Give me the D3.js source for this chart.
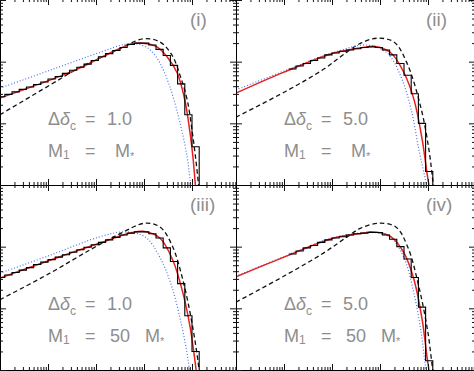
<!DOCTYPE html>
<html>
<head>
<meta charset="utf-8">
<script src="https://cdn.jsdelivr.net/npm/d3@7"></script>
<style>
  body { margin: 0; background: #fff; }
  svg { display: block; }
</style>
</head>
<body>
<svg id="chart" width="474" height="371"></svg>
<script>
// log10 M on x, log10 f on y
const panelLabels = ['(i)', '(ii)', '(iii)', '(iv)']
const deltaValues = ['1.0', '5.0', '1.0', '5.0']
const m1Prefix = ['', '', '50', '50']

const binWidth = 0.15
const histStart = [8.95, 10.10, 8.95, 10.10]

const histI = [-1.57, -1.53, -1.49, -1.45, -1.41, -1.37, -1.33, -1.28, -1.24, -1.19, -1.14, -1.09, -1.04, -0.98,
  -0.92, -0.87, -0.82, -0.77, -0.72, -0.70, -0.70, -0.73, -0.80, -0.90, -1.06, -1.36, -1.86, -2.38]
const histII = [-1.12, -1.07, -1.03, -0.98, -0.94, -0.89, -0.86, -0.83, -0.81, -0.79, -0.77, -0.76, -0.77, -0.81,
  -0.89, -1.03, -1.22, -1.52, -2.00, -2.78]
const histIII = [-1.50, -1.46, -1.42, -1.38, -1.34, -1.29, -1.25, -1.21, -1.17, -1.13, -1.09, -1.05, -1.01, -0.97,
  -0.93, -0.89, -0.85, -0.81, -0.78, -0.76, -0.76, -0.79, -0.86, -1.02, -1.24, -1.60, -2.12, -2.70]
const histIV = [-1.12, -1.07, -1.02, -0.98, -0.93, -0.89, -0.86, -0.84, -0.81, -0.79, -0.78, -0.77, -0.77, -0.81,
  -0.88, -1.00, -1.20, -1.50, -1.98, -2.85]

const redI = [[9.00, -1.59], [10.04, -1.30], [10.67, -1.10], [11.29, -0.86], [11.71, -0.72], [11.98, -0.70],
  [12.27, -0.76], [12.48, -0.92], [12.69, -1.18], [12.85, -1.62], [12.96, -2.16], [13.02, -2.55], [13.08, -3.1]]
const blueI = [[9.00, -1.43], [10.04, -1.14], [11.08, -0.85], [11.60, -0.72], [11.90, -0.72], [12.13, -0.81],
  [12.33, -1.02], [12.54, -1.41], [12.75, -1.99], [12.90, -2.55], [12.96, -2.92], [13.00, -3.2]]
const dashI = [[9.00, -1.86], [10.04, -1.38], [10.67, -1.09], [11.08, -0.94], [11.50, -0.79], [11.98, -0.63],
  [12.33, -0.68], [12.58, -0.89], [12.75, -1.22], [12.90, -1.62], [13.00, -2.11], [13.08, -2.59], [13.15, -3.1]]

const redII = [[9.00, -1.51], [10.00, -1.17], [11.04, -0.86], [11.73, -0.76], [11.88, -0.75], [12.23, -0.86],
  [12.50, -1.18], [12.71, -1.62], [12.88, -2.27], [12.98, -2.81], [13.04, -3.1]]
const blueII = [[9.00, -1.46], [10.04, -1.14], [11.08, -0.84], [11.71, -0.73], [12.15, -0.86], [12.44, -1.25],
  [12.65, -1.78], [12.81, -2.43], [12.96, -2.97], [13.00, -3.2]]
const dashII = [[9.00, -1.90], [10.04, -1.48], [10.83, -1.12], [11.30, -0.85], [11.60, -0.70], [11.94, -0.62],
  [12.29, -0.68], [12.56, -1.02], [12.85, -1.74], [13.02, -2.43], [13.10, -2.92], [13.15, -3.2]]

const redIII = [[9.00, -1.51], [10.04, -1.22], [11.08, -0.94], [11.71, -0.78], [11.98, -0.75], [12.33, -0.86],
  [12.60, -1.22], [12.81, -1.75], [12.96, -2.30], [13.06, -2.84], [13.10, -3.1]]
const blueIII = [[9.00, -1.43], [10.04, -1.14], [11.08, -0.84], [11.60, -0.76], [12.02, -0.84], [12.33, -1.17],
  [12.58, -1.65], [12.79, -2.30], [12.92, -2.84], [12.96, -3.1]]
const dashIII = [[9.00, -1.86], [10.04, -1.43], [10.88, -1.05], [11.50, -0.79], [12.02, -0.62], [12.33, -0.68],
  [12.58, -0.97], [12.81, -1.54], [13.00, -2.24], [13.13, -2.89], [13.17, -3.2]]

const redIV = [[9.00, -1.49], [10.00, -1.17], [11.04, -0.86], [11.67, -0.78], [11.81, -0.76], [12.23, -0.84],
  [12.50, -1.10], [12.71, -1.54], [12.88, -2.19], [12.98, -2.79], [13.04, -3.1]]
const blueIV = [[9.00, -1.48], [10.00, -1.16], [11.04, -0.85], [11.67, -0.77], [11.81, -0.76], [12.23, -0.86],
  [12.50, -1.18], [12.69, -1.70], [12.85, -2.35], [12.94, -2.90], [12.98, -3.1]]
const dashIV = [[9.00, -1.90], [10.04, -1.46], [10.83, -1.10], [11.30, -0.85], [11.60, -0.70], [11.98, -0.62],
  [12.33, -0.68], [12.58, -1.01], [12.81, -1.65], [13.00, -2.40], [13.10, -3.0], [13.15, -3.2]]

const hists = [histI, histII, histIII, histIV]
const reds = [redI, redII, redIII, redIV]
const blues = [blueI, blueII, blueIII, blueIV]
const dashes = [dashI, dashII, dashIII, dashIV]

const pxPerDecadeX = 48
const pxPerDecadeY = 61.67
const textGray = '#8e8e8e'

const panels = [
  { x: 0, y: -1, w: 236, h: 186, top: 0 },
  { x: 236, y: -1, w: 239, h: 186, top: 0 },
  { x: 0, y: 185, w: 236, h: 185, top: 185 },
  { x: 236, y: 185, w: 239, h: 185, top: 185 }
]

const svg = d3.select('#chart')
const defs = svg.append('defs')

const isMajor = d => Math.abs(Math.log10(d) - Math.round(Math.log10(d))) < 1e-6

panels.forEach((p, i) => {
  const x = d3.scaleLog().domain([1e9, Math.pow(10, 9 + p.w / pxPerDecadeX)]).range([0, p.w])
  const y = d3.scaleLog().domain([1e-3, Math.pow(10, p.h / pxPerDecadeY - 3)]).range([p.h, 0])

  const g = svg.append('g').attr('transform', `translate(${p.x},${p.y})`)

  defs.append('clipPath').attr('id', `clip${i}`)
    .append('rect').attr('width', p.w).attr('height', p.h)

  const plot = g.append('g').attr('clip-path', `url(#clip${i})`)

  const line = d3.line()
    .x(d => x(Math.pow(10, d[0])))
    .y(d => y(Math.pow(10, d[1])))
    .curve(d3.curveCatmullRom.alpha(0.5))

  plot.append('path').datum(dashes[i])
    .attr('fill', 'none').attr('stroke', '#111').attr('stroke-width', 1.3)
    .attr('stroke-dasharray', '4.5,3').attr('d', line)

  plot.append('path').datum(blues[i])
    .attr('fill', 'none').attr('stroke', '#4a74e8').attr('stroke-width', 1.2)
    .attr('stroke-dasharray', '1,2').attr('d', line)

  plot.append('path').datum(reds[i])
    .attr('fill', 'none').attr('stroke', '#e3211f').attr('stroke-width', 1.5).attr('d', line)

  // histogram steps
  const vals = hists[i]
  const steps = vals.map((v, k) => [histStart[i] + k * binWidth, v])
  const lastEdge = histStart[i] + vals.length * binWidth
  steps.push([lastEdge, vals[vals.length - 1]])
  steps.push([lastEdge, -5])
  const stepLine = d3.line()
    .x(d => x(Math.pow(10, d[0])))
    .y(d => y(Math.pow(10, d[1])))
    .curve(d3.curveStepAfter)
  plot.append('path').datum(steps)
    .attr('fill', 'none').attr('stroke', '#000').attr('stroke-width', 1.1).attr('d', stepLine)

  // axes, ticks inward on all four sides
  const styleAxis = (sel, attr, len) => {
    sel.selectAll('.tick line')
      .attr(attr, d => (isMajor(d) ? len : len / 2))
      .attr('stroke', '#111')
    sel.select('.domain').attr('stroke', '#000')
  }
  const ax = [
    { a: d3.axisBottom(x), t: `translate(0,${p.h})`, attr: 'y2', len: -6 },
    { a: d3.axisTop(x), t: 'translate(0,0)', attr: 'y2', len: 6 },
    { a: d3.axisLeft(y), t: 'translate(0,0)', attr: 'x2', len: 6 },
    { a: d3.axisRight(y), t: `translate(${p.w},0)`, attr: 'x2', len: -6 }
  ]
  ax.forEach(o => {
    const sel = g.append('g').attr('transform', o.t)
      .call(o.a.tickSizeInner(6).tickSizeOuter(0).tickFormat(''))
    styleAxis(sel, o.attr, o.len)
  })

  // annotations
  const tg = svg.append('g').attr('transform', `translate(${p.x},${p.top})`)
    .attr('font-family', '"Liberation Sans", Arial, sans-serif').attr('fill', textGray)

  tg.append('text').attr('x', 190).attr('y', 26).attr('font-size', 19).text(panelLabels[i])

  const t1 = tg.append('text').attr('x', 48).attr('y', 125).attr('font-size', 18)
  t1.append('tspan').text('Δ')
  t1.append('tspan').attr('font-style', 'italic').text('δ')
  t1.append('tspan').attr('font-size', 12).attr('dy', 5).text('c')
  t1.append('tspan').attr('x', 85).attr('dy', -5).text('=')
  t1.append('tspan').attr('x', 107).text(deltaValues[i])

  const t2 = tg.append('text').attr('x', 48).attr('y', 157).attr('font-size', 18)
  t2.append('tspan').text('M')
  t2.append('tspan').attr('font-size', 12).attr('dy', 2).text('1')
  t2.append('tspan').attr('x', 85).attr('dy', -2).text('=')
  if (m1Prefix[i]) {
    t2.append('tspan').attr('x', 110).text(m1Prefix[i])
    t2.append('tspan').attr('x', 145).text('M')
  } else {
    t2.append('tspan').attr('x', 115).text('M')
  }
  t2.append('tspan').attr('font-size', 11).attr('dy', 3).text('*')
})
</script>
</body>
</html>
